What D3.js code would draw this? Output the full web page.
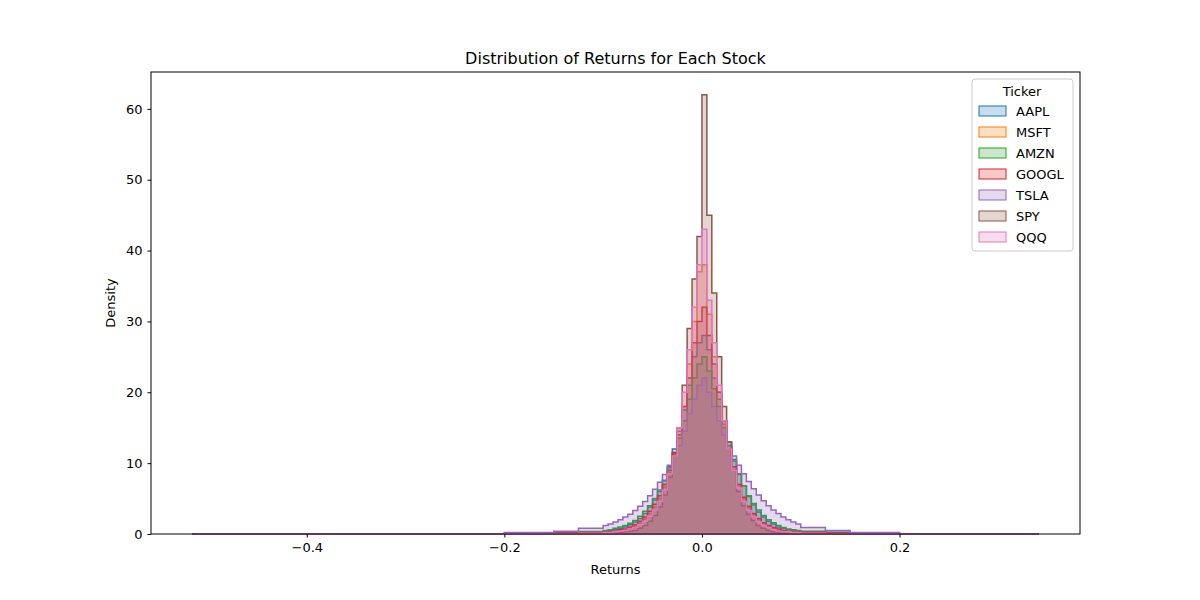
<!DOCTYPE html>
<html><head><meta charset="utf-8">
<script src="https://cdn.jsdelivr.net/npm/d3@7"></script>
<style>body{margin:0;background:#fff}svg{font-family:"DejaVu Sans",sans-serif}</style>
</head><body><svg width="1200" height="600"></svg>
<script>
const tickers = ["AAPL","MSFT","AMZN","GOOGL","TSLA","SPY","QQQ"];
const colors = ["#1f77b4","#ff7f0e","#2ca02c","#d62728","#9467bd","#8c564b","#e377c2"];
const edges = [-0.515,-0.3,-0.2,-0.15,-0.125,-0.1,
 -0.095,-0.09,-0.085,-0.08,-0.075,-0.07,-0.065,-0.06,-0.055,-0.05,-0.045,-0.04,-0.035,-0.03,-0.025,-0.02,-0.015,-0.01,-0.005,0,
 0.005,0.01,0.015,0.02,0.025,0.03,0.035,0.04,0.045,0.05,0.055,0.06,0.065,0.07,0.075,0.08,0.085,0.09,0.095,0.1,
 0.125,0.15,0.2,0.3,0.34];
const leftTails = {
 AAPL:[0.002,0.02,0.08,0.2,0.3], MSFT:[0.001,0.01,0.05,0.1,0.15], AMZN:[0.003,0.03,0.1,0.25,0.35],
 GOOGL:[0.002,0.02,0.06,0.15,0.2], TSLA:[0.005,0.05,0.2,0.4,0.8], SPY:[0,0,0.01,0.02,0.05], QQQ:[0,0.01,0.02,0.05,0.1]};
const rightTails = {
 AAPL:[0.3,0.2,0.08,0.02,0.002], MSFT:[0.15,0.1,0.04,0.01,0.001], AMZN:[0.4,0.25,0.1,0.03,0.003],
 GOOGL:[0.25,0.15,0.06,0.02,0.002], TSLA:[0.9,0.5,0.2,0.05,0.01], SPY:[0.05,0.02,0.01,0,0], QQQ:[0.1,0.05,0.02,0.01,0]};
const core = {
 AAPL:[0.4,0.5,0.6,0.8,1,1.3,1.7,2.2,2.9,3.8,4.8,6,7.5,9.5,12,14.5,17.5,21,25,27,28,26,22,19,16,13,10.5,8.5,6.8,5.3,4.1,3.1,2.4,1.8,1.4,1,0.8,0.6,0.5,0.4],
 MSFT:[0.2,0.3,0.3,0.5,0.6,0.8,1.1,1.5,2.1,2.9,3.8,5,6.6,8.7,11.5,15,18,24,30,37,38,31,25,20,15.5,12,9,7,5,3.7,2.8,2,1.5,1.1,0.8,0.6,0.4,0.3,0.3,0.2],
 AMZN:[0.5,0.6,0.8,1,1.2,1.5,1.9,2.5,3.2,4,5,6.2,7.6,9.3,11.3,13.5,16,19,22,24,25,23,20.5,18,15,12.5,10.3,8.4,6.8,5.4,4.3,3.4,2.6,2,1.6,1.2,0.9,0.7,0.6,0.5],
 GOOGL:[0.3,0.3,0.4,0.6,0.7,1,1.3,1.8,2.4,3.2,4.2,5.4,7,9,11.5,14,18,22,27,30,32,28,24,20,16,12,9.5,7,5.2,3.9,2.9,2.2,1.6,1.2,0.9,0.7,0.5,0.4,0.3,0.3],
 TSLA:[1.2,1.4,1.7,2,2.4,2.8,3.3,3.9,4.6,5.4,6.3,7.3,8.4,9.7,11,12.5,14.5,17,19,21,22,20,18,16,14,12.5,11,9.7,8.5,7.4,6.4,5.5,4.7,4,3.4,2.9,2.4,2,1.7,1.4],
 SPY:[0.1,0.1,0.2,0.2,0.3,0.4,0.5,0.8,1.2,1.8,2.6,3.8,5.5,8,11,15,21,29,36,42,62,45,34,25,18,13,9,6,4,2.8,1.9,1.2,0.8,0.5,0.3,0.2,0.2,0.1,0.1,0.1],
 QQQ:[0.2,0.2,0.3,0.4,0.5,0.7,0.9,1.3,1.8,2.5,3.4,4.6,6.2,8.5,11,15,20,26,32,38,43,33,27,21,16,12,9,6.5,4.6,3.3,2.4,1.7,1.2,0.9,0.6,0.4,0.3,0.3,0.2,0.2]};
const xTicks = [-0.4,-0.2,0,0.2];
const yTicks = [0,10,20,30,40,50,60];

const svg = d3.select("svg");
const L=151,R=1080,T=72,B=534;
const x = d3.scaleLinear().domain([-0.5577,0.3827]).range([L,R]);
const y = d3.scaleLinear().domain([0,65.2]).range([B,T]);

tickers.forEach((t,i)=>{
  const vals = leftTails[t].concat(core[t], rightTails[t]);
  let d = `M${x(edges[0])},${y(0)}`;
  vals.forEach((v,j)=>{ d += `L${x(edges[j])},${y(v)}L${x(edges[j+1])},${y(v)}`; });
  d += `L${x(edges[edges.length-1])},${y(0)}Z`;
  svg.append("path").attr("d",d).attr("fill",colors[i]).attr("fill-opacity",0.25)
    .attr("stroke",colors[i]).attr("stroke-width",1.5);
});

const xa = svg.append("g").attr("transform",`translate(0,${B})`)
  .call(d3.axisBottom(x).tickValues(xTicks).tickSize(3.5).tickPadding(5).tickFormat(d=>d===0?"0.0":d3.format(".1f")(d).replace("-","\u2212")));
const ya = svg.append("g").attr("transform",`translate(${L},0)`)
  .call(d3.axisLeft(y).tickValues(yTicks).tickSize(3.5).tickPadding(5));
[xa,ya].forEach(a=>{a.select(".domain").remove();a.selectAll("text").attr("font-size",13).attr("fill","#000").attr("font-family","DejaVu Sans");a.selectAll("line").attr("stroke","#000");});
svg.append("rect").attr("x",L).attr("y",T).attr("width",R-L).attr("height",B-T).attr("fill","none").attr("stroke","#000").attr("stroke-width",1);

svg.append("text").attr("x",(L+R)/2).attr("y",64).attr("text-anchor","middle").attr("font-size",16).text("Distribution of Returns for Each Stock");
svg.append("text").attr("x",(L+R)/2).attr("y",574).attr("text-anchor","middle").attr("font-size",13).text("Returns");
svg.append("text").attr("transform",`translate(115,${(T+B)/2}) rotate(-90)`).attr("text-anchor","middle").attr("font-size",13).text("Density");

const lg = svg.append("g");
lg.append("rect").attr("x",972).attr("y",79).attr("width",101).attr("height",172).attr("rx",3).attr("fill","#fff").attr("fill-opacity",0.8).attr("stroke","#ccc");
lg.append("text").attr("x",1022).attr("y",96).attr("text-anchor","middle").attr("font-size",13).text("Ticker");
tickers.forEach((t,i)=>{
  const yy = 111 + i*21;
  lg.append("rect").attr("x",979).attr("y",yy-5).attr("width",27).attr("height",10)
    .attr("fill",colors[i]).attr("fill-opacity",0.25).attr("stroke",colors[i]);
  lg.append("text").attr("x",1016).attr("y",yy+5).attr("font-size",13).text(t);
});
</script></body></html>
